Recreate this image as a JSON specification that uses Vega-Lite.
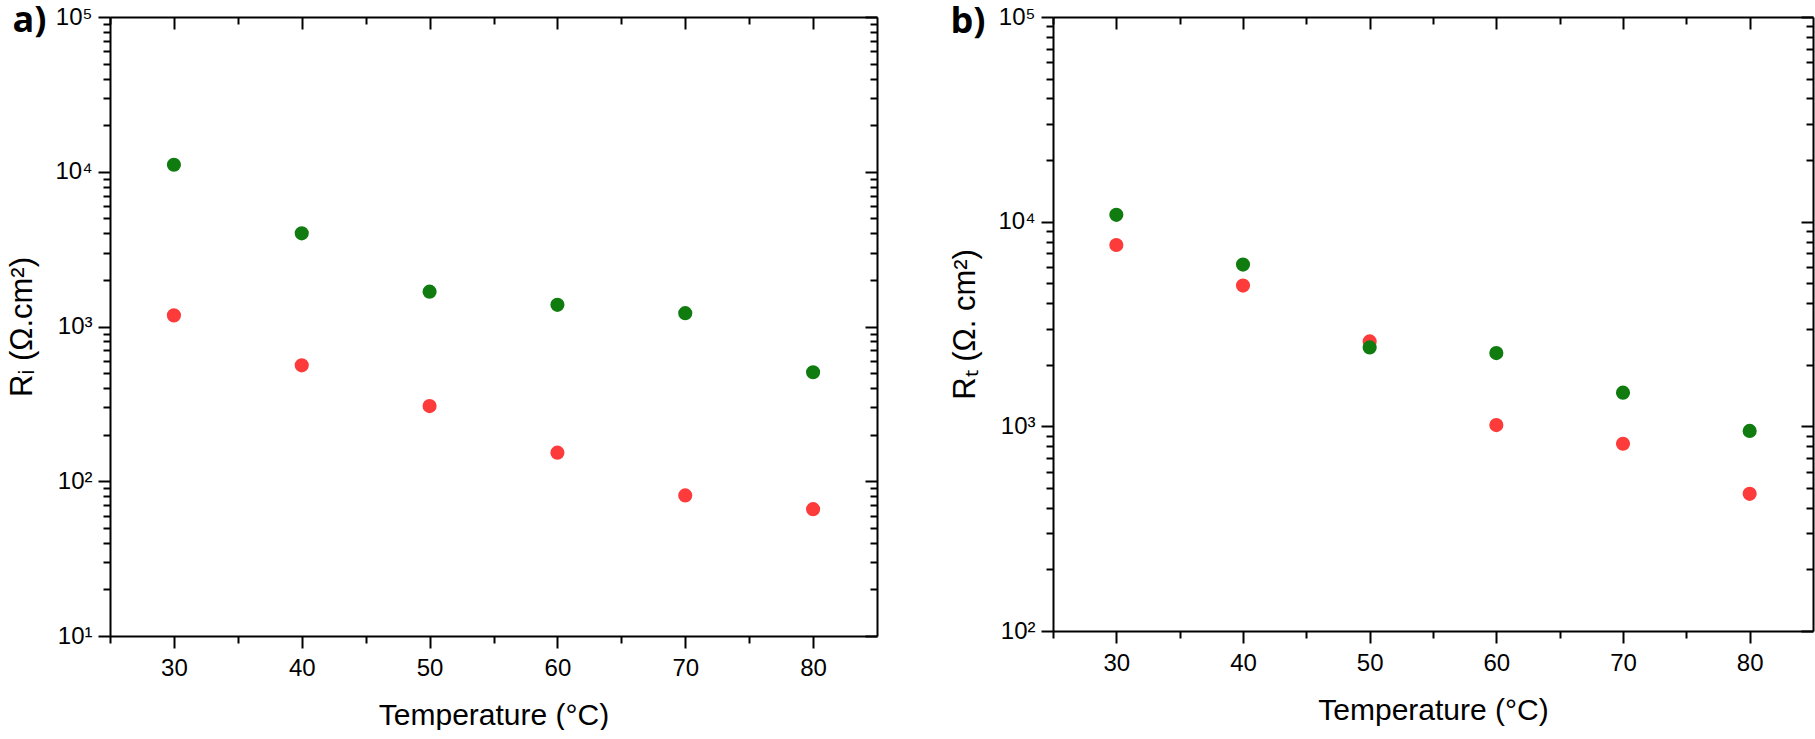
{
  "$schema": "https://vega.github.io/schema/vega-lite/v6.json",
  "background": "white",
  "padding": {"left": 6, "top": 2, "right": 2, "bottom": 0},
  "spacing": 71,
  "config": {
    "view": {"stroke": null},
    "font": "Liberation Sans",
    "axis": {
      "grid": false,
      "domainColor": "black",
      "domainWidth": 2,
      "tickColor": "black",
      "tickWidth": 2,
      "labelColor": "black",
      "labelFontSize": 24,
      "labelFont": "Liberation Sans",
      "titleColor": "black",
      "titleFontSize": 30,
      "titleFontWeight": "normal",
      "titleFont": "Liberation Sans"
    }
  },
  "hconcat": [
    {
      "width": 767,
      "height": 619,
      "data": {"values": [
        {"T": 30, "R": 1180, "s": "r"}, {"T": 40, "R": 561, "s": "r"}, {"T": 50, "R": 306, "s": "r"},
        {"T": 60, "R": 153, "s": "r"}, {"T": 70, "R": 81, "s": "r"}, {"T": 80, "R": 66, "s": "r"},
        {"T": 30, "R": 11100, "s": "g"}, {"T": 40, "R": 4000, "s": "g"}, {"T": 50, "R": 1680, "s": "g"},
        {"T": 60, "R": 1380, "s": "g"}, {"T": 70, "R": 1220, "s": "g"}, {"T": 80, "R": 506, "s": "g"}
      ]},
      "layer": [
        {
          "mark": {"type": "circle", "size": 200, "opacity": 1},
          "encoding": {
            "x": {"field": "T", "type": "quantitative", "scale": {"domain": [25, 85], "nice": false, "zero": false},
              "axis": {"orient": "bottom", "title": "Temperature (°C)", "values": [25, 30, 35, 40, 45, 50, 55, 60, 65, 70, 75, 80],
                "labelExpr": "datum.value % 10 == 0 ? datum.label : ''",
                "tickSize": {"condition": {"test": "datum.value % 10 == 0", "value": 12}, "value": 7},
                "labelPadding": 8, "titlePadding": 20}},
            "y": {"field": "R", "type": "quantitative", "scale": {"type": "log", "domain": [10, 100000], "nice": false},
              "axis": {"orient": "left", "title": "Rᵢ (Ω.cm²)", "titleFontSize": 31,
                "values": [10, 20, 30, 40, 50, 60, 70, 80, 90, 100, 200, 300, 400, 500, 600, 700, 800, 900, 1000, 2000, 3000, 4000, 5000, 6000, 7000, 8000, 9000, 10000, 20000, 30000, 40000, 50000, 60000, 70000, 80000, 90000, 100000],
                "labelExpr": "abs(log(datum.value)/LN10 - round(log(datum.value)/LN10)) < 0.000001 ? '10' + ['⁰','¹','²','³','⁴','⁵'][round(log(datum.value)/LN10)] : ''",
                "tickSize": {"condition": {"test": "abs(log(datum.value)/LN10 - round(log(datum.value)/LN10)) < 0.000001", "value": 12}, "value": 7},
                "labelPadding": 6, "titlePadding": 16}},
            "color": {"field": "s", "type": "nominal", "scale": {"domain": ["g", "r"], "range": ["#107c10", "#fd3b3b"]}, "legend": null}
          }
        },
        {
          "mark": {"type": "circle", "opacity": 0},
          "encoding": {
            "x": {"field": "T", "type": "quantitative", "scale": {"domain": [25, 85], "nice": false, "zero": false},
              "axis": {"orient": "top", "labels": false, "values": [25, 30, 35, 40, 45, 50, 55, 60, 65, 70, 75, 80],
                "tickSize": {"condition": {"test": "datum.value % 10 == 0", "value": -12}, "value": -7},
                "title": "a)", "titleX": -98, "titleY": 14, "titleAngle": 0, "titleAlign": "left", "titleBaseline": "alphabetic",
                "titleFontSize": 36, "titleFontWeight": "bold", "titleFont": "Open Sans"}},
            "y": {"field": "R", "type": "quantitative", "scale": {"type": "log", "domain": [10, 100000], "nice": false},
              "axis": {"orient": "right", "title": null, "labels": false,
                "values": [10, 20, 30, 40, 50, 60, 70, 80, 90, 100, 200, 300, 400, 500, 600, 700, 800, 900, 1000, 2000, 3000, 4000, 5000, 6000, 7000, 8000, 9000, 10000, 20000, 30000, 40000, 50000, 60000, 70000, 80000, 90000, 100000],
                "tickSize": {"condition": {"test": "abs(log(datum.value)/LN10 - round(log(datum.value)/LN10)) < 0.000001", "value": -12}, "value": -7}}}
          }
        }
      ],
      "resolve": {"axis": {"x": "independent", "y": "independent"}}
    },
    {
      "width": 760,
      "height": 614,
      "data": {"values": [
        {"T": 30, "R": 7690, "s": "r"}, {"T": 40, "R": 4870, "s": "r"}, {"T": 50, "R": 2600, "s": "r"},
        {"T": 60, "R": 1014, "s": "r"}, {"T": 70, "R": 822, "s": "r"}, {"T": 80, "R": 468, "s": "r"},
        {"T": 30, "R": 10800, "s": "g"}, {"T": 40, "R": 6170, "s": "g"}, {"T": 50, "R": 2430, "s": "g"},
        {"T": 60, "R": 2280, "s": "g"}, {"T": 70, "R": 1460, "s": "g"}, {"T": 80, "R": 950, "s": "g"}
      ]},
      "layer": [
        {
          "mark": {"type": "circle", "size": 200, "opacity": 1},
          "encoding": {
            "x": {"field": "T", "type": "quantitative", "scale": {"domain": [25, 85], "nice": false, "zero": false},
              "axis": {"orient": "bottom", "title": "Temperature (°C)", "values": [25, 30, 35, 40, 45, 50, 55, 60, 65, 70, 75, 80],
                "labelExpr": "datum.value % 10 == 0 ? datum.label : ''",
                "tickSize": {"condition": {"test": "datum.value % 10 == 0", "value": 12}, "value": 7},
                "labelPadding": 8, "titlePadding": 20}},
            "y": {"field": "R", "type": "quantitative", "scale": {"type": "log", "domain": [100, 100000], "nice": false},
              "axis": {"orient": "left", "title": "Rₜ (Ω. cm²)", "titleFontSize": 31,
                "values": [100, 200, 300, 400, 500, 600, 700, 800, 900, 1000, 2000, 3000, 4000, 5000, 6000, 7000, 8000, 9000, 10000, 20000, 30000, 40000, 50000, 60000, 70000, 80000, 90000, 100000],
                "labelExpr": "abs(log(datum.value)/LN10 - round(log(datum.value)/LN10)) < 0.000001 ? '10' + ['⁰','¹','²','³','⁴','⁵'][round(log(datum.value)/LN10)] : ''",
                "tickSize": {"condition": {"test": "abs(log(datum.value)/LN10 - round(log(datum.value)/LN10)) < 0.000001", "value": 12}, "value": 7},
                "labelPadding": 6, "titlePadding": 16}},
            "color": {"field": "s", "type": "nominal", "scale": {"domain": ["g", "r"], "range": ["#107c10", "#fd3b3b"]}, "legend": null}
          }
        },
        {
          "mark": {"type": "circle", "opacity": 0},
          "encoding": {
            "x": {"field": "T", "type": "quantitative", "scale": {"domain": [25, 85], "nice": false, "zero": false},
              "axis": {"orient": "top", "labels": false, "values": [25, 30, 35, 40, 45, 50, 55, 60, 65, 70, 75, 80],
                "tickSize": {"condition": {"test": "datum.value % 10 == 0", "value": -12}, "value": -7},
                "title": "b)", "titleX": -103, "titleY": 15, "titleAngle": 0, "titleAlign": "left", "titleBaseline": "alphabetic",
                "titleFontSize": 36, "titleFontWeight": "bold", "titleFont": "Open Sans"}},
            "y": {"field": "R", "type": "quantitative", "scale": {"type": "log", "domain": [100, 100000], "nice": false},
              "axis": {"orient": "right", "title": null, "labels": false,
                "values": [100, 200, 300, 400, 500, 600, 700, 800, 900, 1000, 2000, 3000, 4000, 5000, 6000, 7000, 8000, 9000, 10000, 20000, 30000, 40000, 50000, 60000, 70000, 80000, 90000, 100000],
                "tickSize": {"condition": {"test": "abs(log(datum.value)/LN10 - round(log(datum.value)/LN10)) < 0.000001", "value": -12}, "value": -7}}}
          }
        }
      ],
      "resolve": {"axis": {"x": "independent", "y": "independent"}}
    }
  ]
}
